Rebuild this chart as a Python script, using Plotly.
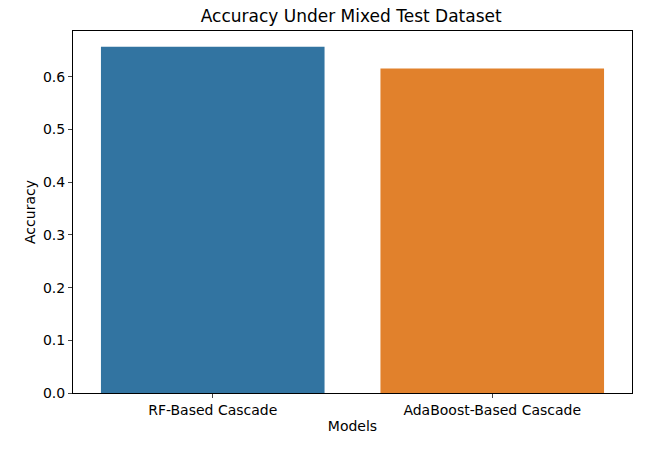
import plotly.graph_objects as go

models = ["RF-Based Cascade", "AdaBoost-Based Cascade"]
accuracy = [0.657, 0.616]
colors = ["#3274a1", "#e1812c"]

fig = go.Figure(go.Bar(x=models, y=accuracy, marker=dict(color=colors, line=dict(width=0)), width=0.8))
fig.update_layout(
    width=660, height=449,
    margin=dict(l=65, r=36, t=23, b=64),
    plot_bgcolor="white", paper_bgcolor="white",
    font=dict(family="DejaVu Sans", size=14, color="black"),
    title=dict(text="Accuracy Under Mixed Test Dataset", x=0.52, xanchor="center", y=0.995, yanchor="top", font=dict(size=17)),
    showlegend=False,
)
fig.update_xaxes(title=dict(text="Models", standoff=4, font=dict(size=14)), tickfont=dict(size=14),
                 showline=True, linecolor="black", mirror=True,
                 ticks="outside", ticklen=4, range=[-0.5, 1.5])
fig.update_yaxes(title=dict(text="Accuracy", standoff=4, font=dict(size=14)), tickfont=dict(size=14),
                 showline=True, linecolor="black", mirror=True,
                 ticks="outside", ticklen=4, range=[0, 0.687], dtick=0.1, tickformat=".1f",
                 showgrid=False, zeroline=False)
fig.write_html("out.html")
